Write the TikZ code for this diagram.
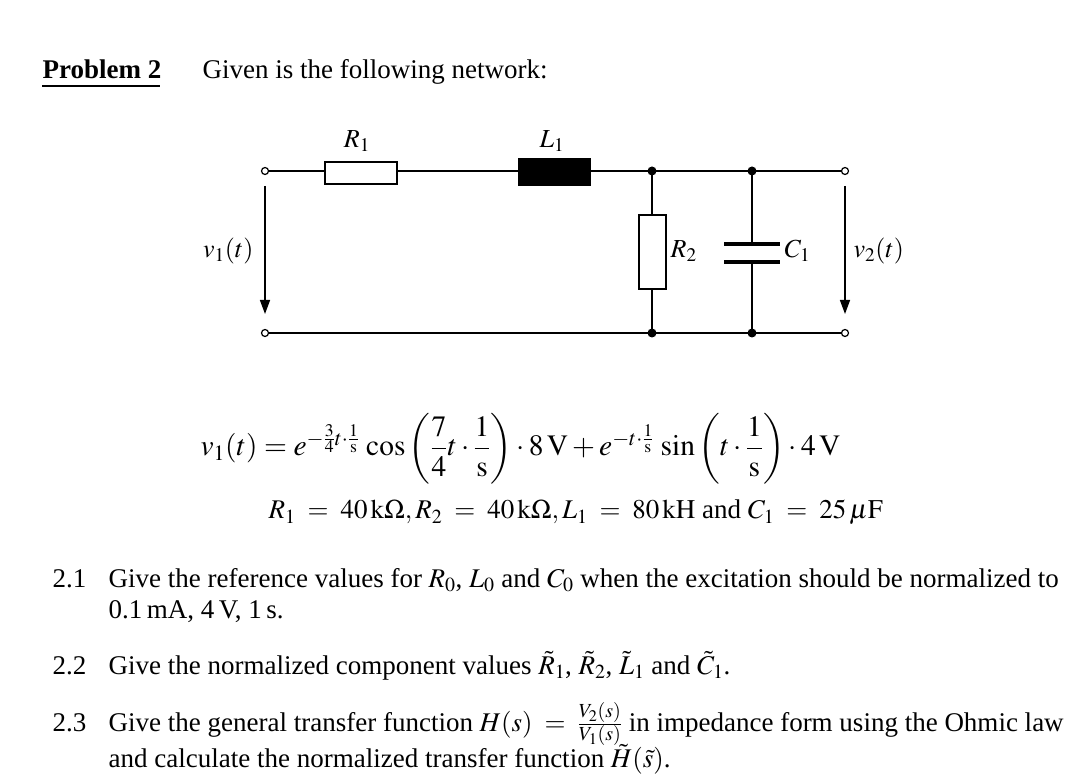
\documentclass[tikz,border=0pt]{standalone}
\usepackage{amsmath}
\usepackage{mathptmx}
\usepackage{fontspec}
\setmainfont{Liberation Serif}
\usetikzlibrary{arrows.meta}
\begin{document}
\begin{tikzpicture}[x=1pt,y=-1pt,line width=1.3pt,
  txt/.style={inner sep=0pt,anchor=base west,font=\fontsize{27}{32}\selectfont},
  lbl/.style={inner sep=0pt,font=\fontsize{26}{30}\selectfont},
  term/.style={circle,draw,fill=white,line width=1.2pt,inner sep=0pt,minimum size=7pt},
  junc/.style={circle,fill,inner sep=0pt,minimum size=9pt},
  res/.style={draw,fill=white,line width=1.4pt},
  varrow/.style={-{Triangle[length=14pt,width=10pt]},line width=1.4pt}]
\useasboundingbox (0,0) rectangle (1080,783);
% header
\node[txt] (p2) at (42,79) {\textbf{Problem 2}};
\draw[line width=1.4pt] (42,86) -- (160,86);
\node[txt] (g) at (202,79) {Given is the following network:};
% circuit
\coordinate (tl) at (265,171); \coordinate (tr) at (845,171);
\coordinate (bl) at (265,333); \coordinate (br) at (845,333);
\coordinate (j1) at (652,171); \coordinate (j2) at (752,171);
\coordinate (k1) at (652,333); \coordinate (k2) at (752,333);
\draw (tl) -- (tr); \draw (bl) -- (br);
\draw (j1) -- (k1); \draw (j2) -- (k2);
\draw[res] (325,162) rectangle (397,184);
\fill (518,158) rectangle (591,186);
\draw[res] (639,215) rectangle (666,289);
\fill[white] (722,246) rectangle (782,260);
\draw[line width=4pt] (724,244) -- (780,244);
\draw[line width=4pt] (724,262) -- (780,262);
\foreach \n/\p in {a/j1,b/j2,c/k1,d/k2} \node[junc] (\n) at (\p) {};
\foreach \n/\p in {ta/tl,tb/tr,tc/bl,td/br} \node[term] (\n) at (\p) {};
\coordinate (la) at (265,186); \coordinate (lb) at (265,314);
\coordinate (ra) at (845,186); \coordinate (rb) at (845,314);
\draw[varrow] (la) -- (lb);
\draw[varrow] (ra) -- (rb);
\node[lbl] (r1) at (357,141) {$R_1$};
\node[lbl] (l1) at (552,141) {$L_1$};
\node[lbl,anchor=west] (r2) at (670,251) {$R_2$};
\node[lbl,anchor=west] (c1) at (784,251) {$C_1$};
\node[lbl,anchor=east] (v1) at (254,251) {$v_1(t)$};
\node[lbl,anchor=west] (v2) at (853,251) {$v_2(t)$};
% equations
\node[txt,font=\fontsize{29.5}{34}\selectfont] (e1) at (200,456) {$v_1(t) = e^{-\frac{3}{4}t\cdot\frac{1}{\mathrm{s}}}\,\cos\left(\dfrac{7}{4}t\cdot\dfrac{1}{\mathrm{s}}\right)\cdot 8\,\mathrm{V} + e^{-t\cdot\frac{1}{\mathrm{s}}}\,\sin\left(t\cdot\dfrac{1}{\mathrm{s}}\right)\cdot 4\,\mathrm{V}$};
\node[txt] (e2) at (268,519) {$R_1\;=\;40\,\mathrm{k\Omega}, R_2\;=\;40\,\mathrm{k\Omega}, L_1\;=\;80\,\mathrm{kH}$ and $C_1\;=\;25\,\mu\mathrm{F}$};
% items
\node[txt] (n1) at (52,587) {2.1};
\node[txt] (t1) at (108,587) {Give the reference values for $R_0$, $L_0$ and $C_0$ when the excitation should be normalized to};
\node[txt] (t1b) at (108,619) {0.1\,mA, 4\,V, 1\,s.};
\node[txt] (n2) at (52,674) {2.2};
\node[txt] (t2) at (108,674) {Give the normalized component values $\tilde{R}_1$, $\tilde{R}_2$, $\tilde{L}_1$ and $\tilde{C}_1$.};
\node[txt] (n3) at (52,731) {2.3};
\node[txt] (t3) at (108,731) {Give the general transfer function $H(s)\;=\;\frac{V_2(s)}{V_1(s)}$ in impedance form using the Ohmic law};
\node[txt] (t3b) at (108,767) {and calculate the normalized transfer function $\tilde{H}(\tilde{s})$.};
\end{tikzpicture}
\end{document}
